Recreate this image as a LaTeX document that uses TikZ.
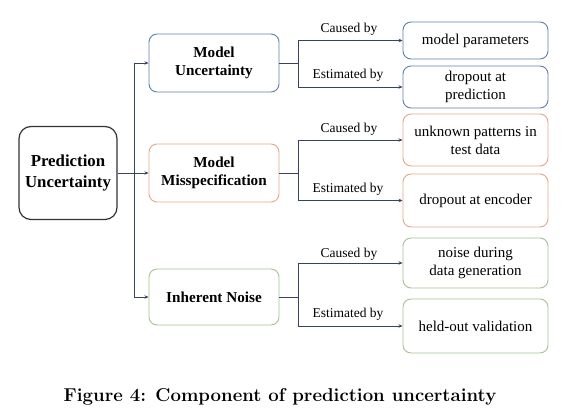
\documentclass[tikz,border=0pt]{standalone}
\usepackage{fontspec}
\newfontfamily\tnr{Liberation Serif}
\usetikzlibrary{arrows.meta}
\definecolor{cblue}{HTML}{5F80A8}
\definecolor{corange}{HTML}{E6A688}
\definecolor{cgreen}{HTML}{A6C290}
\definecolor{cline}{HTML}{37445F}
\definecolor{cdark}{HTML}{333333}
\tikzset{
  box/.style={draw, rounded corners=8pt, line width=0.9pt, align=center, inner sep=0pt},
  topbox/.style={box, draw=cdark, line width=1.2pt, rounded corners=12pt, font=\tnr\bfseries\fontsize{16.8}{20.7}\selectfont},
  midbox/.style={box, font=\tnr\bfseries\fontsize{15.2}{18}\selectfont, minimum width=130pt, minimum height=58pt},
  leafbox/.style={box, font=\tnr\fontsize{15}{18}\selectfont, minimum width=145pt},
  lbl/.style={font=\tnr\fontsize{13.5}{15}\selectfont, inner sep=0pt},
  arr/.style={draw=cline, line width=0.8pt, -{Stealth[length=4pt,width=3.5pt]}},
  ln/.style={draw=cline, line width=0.8pt},
}
\begin{document}
\begin{tikzpicture}[x=1pt,y=-1pt]
\useasboundingbox (0,0) rectangle (565,420);
\fill[white] (0,0) rectangle (565,420);
% top level
\node[topbox, minimum width=98pt, minimum height=93pt] (P) at (68,173) {Prediction\\Uncertainty};
% middle
\node[midbox, draw=cblue] (MU) at (214,63) {Model\\Uncertainty};
\node[midbox, draw=corange] (MM) at (214,173) {Model\\Misspecification};
\node[midbox, draw=cgreen, minimum height=56pt] (IN) at (214,297) {Inherent Noise};
% leaves
\node[leafbox, draw=cblue, minimum height=37pt] (L1) at (475.5,40.5) {model parameters};
\node[leafbox, draw=cblue, minimum height=42pt] (L2) at (475.5,87) {dropout at\\prediction};
\node[leafbox, draw=corange, minimum height=52pt] (L3) at (475.5,140) {unknown patterns in\\test data};
\node[leafbox, draw=corange, minimum height=53pt] (L4) at (475.5,200.5) {dropout at encoder};
\node[leafbox, draw=cgreen, minimum height=50pt] (L5) at (475.5,263) {noise during\\data generation};
\node[leafbox, draw=cgreen, minimum height=54pt] (L6) at (475.5,326) {held-out validation};
% trunk
\coordinate (t) at (134,173);
\draw[arr] (P) -- (MM);
\draw[arr] (t) |- (MU);
\draw[arr] (t) |- (IN);
% branches
\coordinate (b1) at (298,63);
\coordinate (b2) at (298,173);
\coordinate (b3) at (298,297);
\draw[ln] (MU) -- (b1);
\draw[ln] (MM) -- (b2);
\draw[ln] (IN) -- (b3);
\draw[arr] (b1) |- (L1);
\draw[arr] (b1) |- (L2);
\draw[arr] (b2) |- (L3);
\draw[arr] (b2) |- (L4);
\draw[arr] (b3) |- (L5);
\draw[arr] (b3) |- (L6);
% labels
\node[lbl] (c1) at (349,29) {Caused by};
\node[lbl] (e1) at (348,75) {Estimated by};
\node[lbl] (c2) at (349,129) {Caused by};
\node[lbl] (e2) at (348,189) {Estimated by};
\node[lbl] (c3) at (349,254) {Caused by};
\node[lbl] (e3) at (348,314) {Estimated by};
% caption
\node[font=\bfseries\fontsize{18.6}{20}\selectfont, inner sep=0pt] (cap) at (280,397) {Figure 4: Component of prediction uncertainty};
\end{tikzpicture}
\end{document}
